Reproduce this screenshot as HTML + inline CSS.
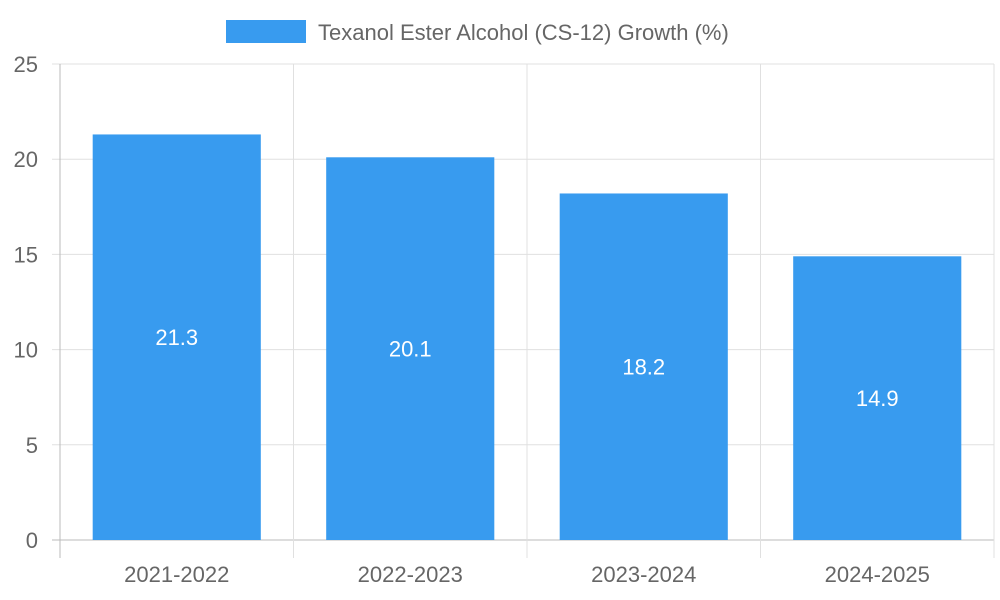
<!DOCTYPE html>
<html><head><meta charset="utf-8"><style>
html,body{margin:0;padding:0;background:#fff;}
svg{display:block;font-family:"Liberation Sans",sans-serif;}
</style></head><body>
<svg id="chart" width="1000" height="600">
<g id="legend">
<rect x="226" y="20" width="80" height="23" fill="#389bef"></rect>
<text x="318" y="40" font-size="22" fill="#666">Texanol Ester Alcohol (CS-12) Growth (%)</text>
</g>
<g id="grid"></g><g id="bars"></g><g id="axes"></g>
</svg>
<script>
const categories = ["2021-2022","2022-2023","2023-2024","2024-2025"];
const values = [21.3, 20.1, 18.2, 14.9];
const yTicks = [0,5,10,15,20,25];
const NS="http://www.w3.org/2000/svg";
const L=60,R=994,T=64,B=540,yMax=25;
const y=v=>B-(v/yMax)*(B-T);
const bw=(R-L)/categories.length;
const xc=i=>L+bw*(i+0.5);
function mk(tag,attrs,parent){const e=document.createElementNS(NS,tag);for(const k in attrs)e.setAttribute(k,attrs[k]);document.getElementById(parent).appendChild(e);return e;}
yTicks.forEach(t=>{
 const g=mk('line',{x1:L-8,x2:R,y1:y(t),y2:y(t),stroke:t===0?'#bbb':'#e0e0e0','stroke-width':1},'grid');
 
 
 const tx=mk('text',{x:L-22,y:y(t)+8,'font-size':22,fill:'#666','text-anchor':'end'},'axes');
 tx.textContent=t;
 
 
});
for(let i=0;i<=categories.length;i++){
 const g=mk('line',{x1:L+bw*i,x2:L+bw*i,y1:T,y2:B+18,stroke:i===0?'#bbb':'#e0e0e0','stroke-width':1},'grid');
 
 
}
categories.forEach((c,i)=>{
 const w=bw*0.72;
 const r=mk('rect',{x:xc(i)-w/2,y:y(values[i]),width:w,height:B-y(values[i]),fill:'#389bef'},'bars');
 
 
 const v=mk('text',{x:xc(i),y:(y(values[i])+B)/2+8,'font-size':22,fill:'#fff','text-anchor':'middle'},'bars');
 v.textContent=values[i];
 
 
 const tx=mk('text',{x:xc(i),y:582,'font-size':22,fill:'#666','text-anchor':'middle'},'axes');
 tx.textContent=c;
 
 
});
</script>
</body></html>
